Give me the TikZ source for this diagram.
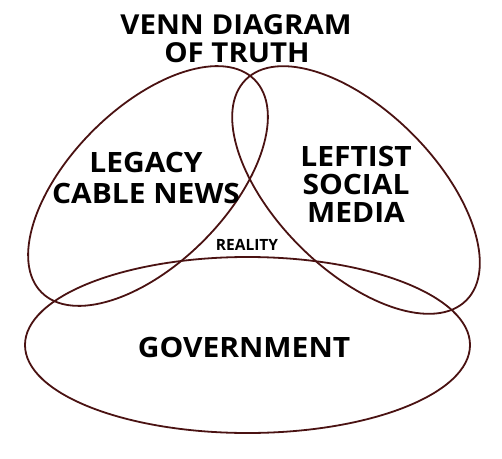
\documentclass[tikz,border=0pt]{standalone}
\usepackage{fontspec}
\setmainfont{Open Sans}
\newfontfamily\widefont[FakeStretch=1.07]{Open Sans}
\usetikzlibrary{shapes.geometric}
\definecolor{ring}{HTML}{4A1212}
\begin{document}
\begin{tikzpicture}[x=1pt,y=1pt,
  ring/.style={draw=ring, line width=1.8pt, ellipse, inner sep=0pt},
  big/.style={font=\widefont\bfseries\fontsize{28}{28}\selectfont, inner sep=0pt, anchor=base},
  ttl/.style={font=\widefont\bfseries\fontsize{27.5}{28}\selectfont, inner sep=0pt, anchor=base},
  small/.style={font=\bfseries\fontsize{15.5}{16}\selectfont, inner sep=0pt, anchor=base}]
\useasboundingbox (0,0) rectangle (502,458);
\node[ring, minimum width=301pt, minimum height=156pt, rotate=45] (cable) at (148,272) {};
\node[ring, minimum width=312pt, minimum height=159pt, rotate=-45] (social) at (356,268) {};
\node[ring, minimum width=445pt, minimum height=176pt] (gov) at (247.5,113) {};
\node[ttl] (t1) at (236,423) {VENN DIAGRAM};
\node[ttl] (t2) at (237,395) {OF TRUTH};
\node[big] (l1) at (146,285) {LEGACY};
\node[big] (l2) at (146,254) {CABLE NEWS};
\node[big] (r1) at (356,291) {LEFTIST};
\node[big] (r2) at (356,263) {SOCIAL};
\node[big] (r3) at (356,236) {MEDIA};
\node[small] (real) at (247,208) {REALITY};
\node[big] (g) at (244,101) {GOVERNMENT};
\end{tikzpicture}
\end{document}
